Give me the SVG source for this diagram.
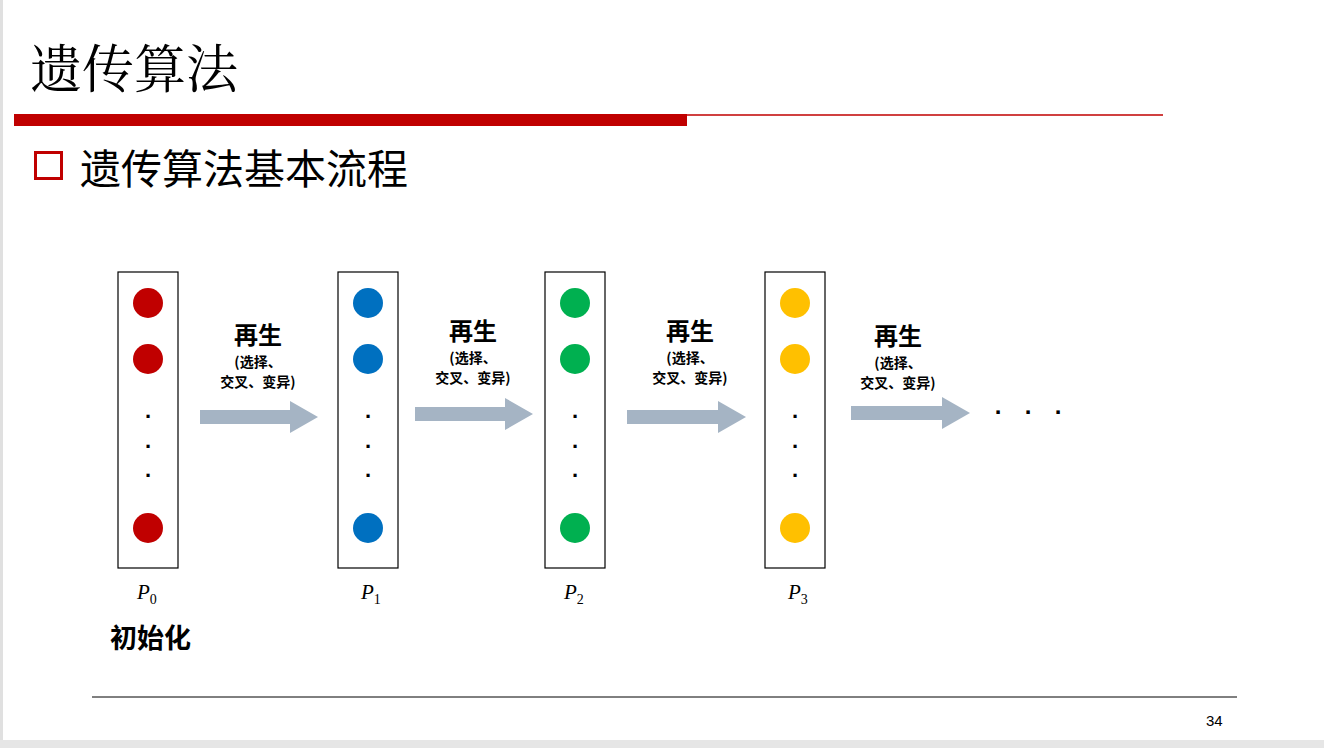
<svg xmlns="http://www.w3.org/2000/svg" width="1324" height="748" viewBox="0 0 1324 748">
<style>
.col{fill:#fff;stroke:#000;stroke-width:1.2}
.dot{font-family:"Liberation Sans",sans-serif;font-size:22px;font-weight:bold;text-anchor:middle}
.arr{fill:#a5b4c4}
.big{font-family:"Noto Sans CJK SC",sans-serif;font-weight:bold;font-size:24px;text-anchor:middle}
.sm{font-family:"Noto Sans CJK SC",sans-serif;font-weight:bold;font-size:14px;text-anchor:middle}
.p{font-family:"Liberation Serif",serif;font-style:italic;font-size:21px}
.sub{font-family:"Liberation Serif",serif;font-style:normal;font-size:14px}
</style>
<rect width="1324" height="748" fill="#fff"/>
<rect x="0" y="0" width="3" height="748" fill="#e0e0e0"/>
<rect x="0" y="740" width="1324" height="8" fill="#e6e6e6"/>
<text x="30" y="88" font-family="'Noto Serif CJK SC','Noto Sans CJK SC',serif" font-size="52">遗传算法</text>
<rect x="14" y="114" width="673" height="12" fill="#c00000"/>
<line x1="687" y1="115" x2="1163" y2="115" stroke="#c00000" stroke-width="1.5"/>
<rect x="35.5" y="152.5" width="26" height="26" fill="none" stroke="#c00000" stroke-width="3"/>
<text x="80" y="184" font-family="'Noto Sans CJK SC',sans-serif" font-size="41">遗传算法基本流程</text>
<g id="P0">
<rect class="col" x="118" y="272" width="60" height="296"/>
<circle cx="148" cy="303" r="15" fill="#c00000"/><circle cx="148" cy="359" r="15" fill="#c00000"/><circle cx="148" cy="528" r="15" fill="#c00000"/>
<text class="dot" x="148" y="418">.</text><text class="dot" x="148" y="448">.</text><text class="dot" x="148" y="477">.</text>
<text class="p" x="137" y="599">P<tspan class="sub" dy="5">0</tspan></text>
</g>
<g id="P1">
<rect class="col" x="338" y="272" width="60" height="296"/>
<circle cx="368" cy="303" r="15" fill="#0070c0"/><circle cx="368" cy="359" r="15" fill="#0070c0"/><circle cx="368" cy="528" r="15" fill="#0070c0"/>
<text class="dot" x="368" y="418">.</text><text class="dot" x="368" y="448">.</text><text class="dot" x="368" y="477">.</text>
<text class="p" x="361" y="599">P<tspan class="sub" dy="5">1</tspan></text>
</g>
<g id="P2">
<rect class="col" x="545" y="272" width="60" height="296"/>
<circle cx="575" cy="303" r="15" fill="#00b050"/><circle cx="575" cy="359" r="15" fill="#00b050"/><circle cx="575" cy="528" r="15" fill="#00b050"/>
<text class="dot" x="575" y="418">.</text><text class="dot" x="575" y="448">.</text><text class="dot" x="575" y="477">.</text>
<text class="p" x="564" y="599">P<tspan class="sub" dy="5">2</tspan></text>
</g>
<g id="P3">
<rect class="col" x="765" y="272" width="60" height="296"/>
<circle cx="795" cy="303" r="15" fill="#ffc000"/><circle cx="795" cy="359" r="15" fill="#ffc000"/><circle cx="795" cy="528" r="15" fill="#ffc000"/>
<text class="dot" x="795" y="418">.</text><text class="dot" x="795" y="448">.</text><text class="dot" x="795" y="477">.</text>
<text class="p" x="788" y="599">P<tspan class="sub" dy="5">3</tspan></text>
</g>
<g id="connectors">
<polygon class="arr" points="200,410 290,410 290,401 318,417 290,433 290,424 200,424"/>
<polygon class="arr" points="415,407 505,407 505,398 533,414 505,430 505,421 415,421"/>
<polygon class="arr" points="627,410 718,410 718,401 746,417 718,433 718,424 627,424"/>
<polygon class="arr" points="851,406 942,406 942,397 970,413 942,429 942,420 851,420"/>
</g>
<g id="labels">
<text class="big" x="258" y="344">再生</text><text class="sm" x="258" y="367">(选择、</text><text class="sm" x="258" y="387">交叉、变异)</text>
<text class="big" x="473" y="340">再生</text><text class="sm" x="473" y="363">(选择、</text><text class="sm" x="473" y="383">交叉、变异)</text>
<text class="big" x="690" y="340">再生</text><text class="sm" x="690" y="363">(选择、</text><text class="sm" x="690" y="383">交叉、变异)</text>
<text class="big" x="898" y="345">再生</text><text class="sm" x="898" y="368">(选择、</text><text class="sm" x="898" y="388">交叉、变异)</text>
</g>
<g font-family="'Liberation Sans',sans-serif" font-size="24" font-weight="bold" text-anchor="middle">
<text x="998" y="414">.</text><text x="1028" y="414">.</text><text x="1058" y="414">.</text>
</g>
<text x="110" y="648" font-family="'Noto Sans CJK SC',sans-serif" font-size="27" font-weight="bold">初始化</text>
<line x1="92" y1="697" x2="1237" y2="697" stroke="#000" stroke-width="1"/>
<text x="1206" y="726" font-family="'Liberation Sans',sans-serif" font-size="15">34</text>
</svg>
